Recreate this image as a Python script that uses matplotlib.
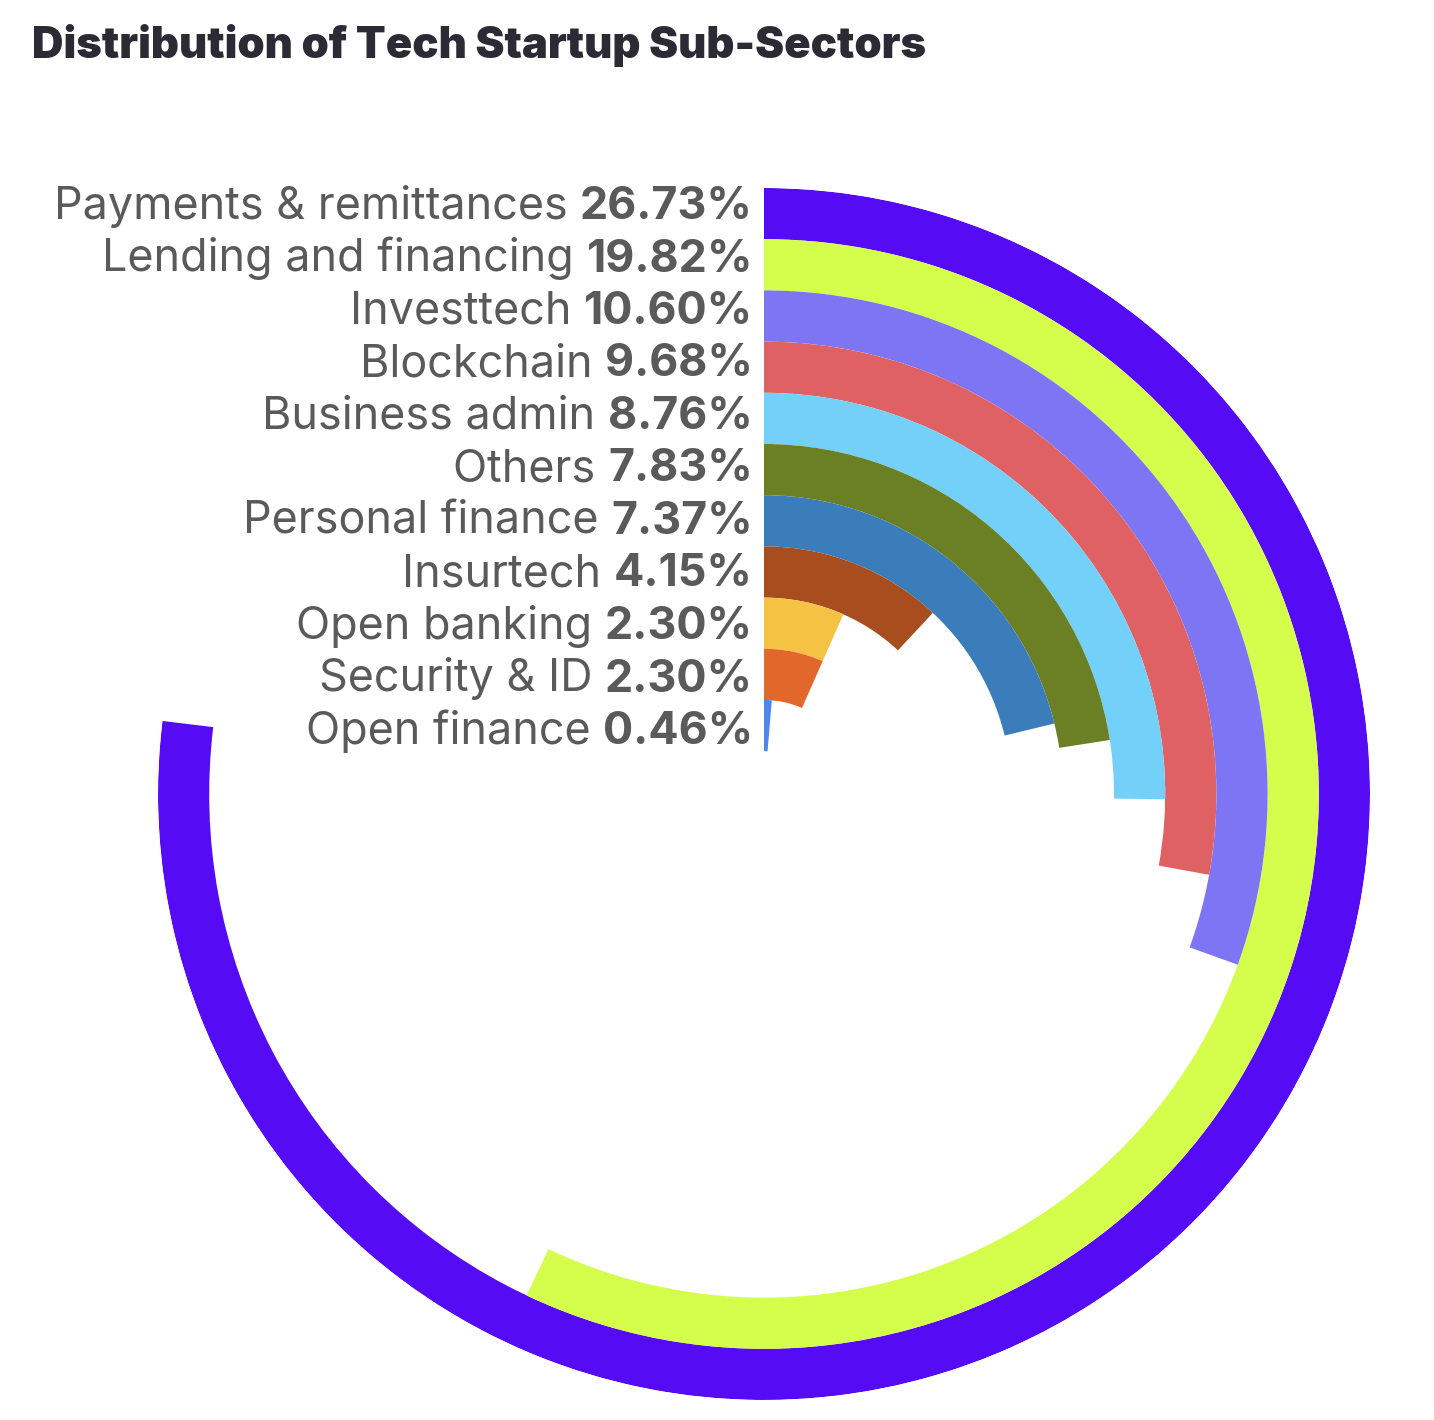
import numpy as np
import matplotlib
matplotlib.use("Agg")
import matplotlib.pyplot as plt

categories = ["Payments & remittances", "Lending and financing", "Investtech", "Blockchain",
              "Business admin", "Others", "Personal finance", "Insurtech", "Open banking",
              "Security & ID", "Open finance"]
values = [26.73, 19.82, 10.60, 9.68, 8.76, 7.83, 7.37, 4.15, 2.30, 2.30, 0.46]
colors = ["#560bf5", "#d4fd4c", "#7e75f5", "#e06163", "#73d0f8", "#6b7f25",
          "#3b7dbb", "#a84d1d", "#f5c243", "#e2672b", "#4f86ec"]

W, H, DPI = 1434, 1420, 100
fig = plt.figure(figsize=(W / DPI, H / DPI), dpi=DPI)
fig.patch.set_facecolor("white")

cx, cy = 764, 794          # center in image pixel coords
R = 606                    # outer radius in px
pitch = 51.2
ax = fig.add_axes([(cx - R) / W, (H - cy - R) / H, 2 * R / W, 2 * R / H], projection="polar")
ax.set_theta_zero_location("N")
ax.set_theta_direction(-1)
ax.set_rlim(0, R)
ax.set_axis_off()

vmax = max(values) * 1.3
n = len(values)
rpos = [R - pitch * (i + 0.5) for i in range(n)]
widths = [v / vmax * 2 * np.pi for v in values]
ax.barh(rpos, widths, left=0, height=pitch, color=colors, linewidth=0)

fig.canvas.draw()
renderer = fig.canvas.get_renderer()
fs = 32.3
lab_color = "#5a5a5a"
x_right = 753
base0, lab_pitch = 219, 52.5
for i, (name, v) in enumerate(zip(categories, values)):
    yb = 1 - (base0 + lab_pitch * i) / H
    t1 = fig.text(x_right / W, yb, f"{v:.2f}%", ha="right", va="baseline", fontsize=fs,
                  fontweight="bold", color=lab_color, family="Inter")
    bb = t1.get_window_extent(renderer)
    fig.text((x_right - bb.width) / W, yb, f"{name} ", ha="right", va="baseline",
             fontsize=fs, color=lab_color, family="Inter")

fig.text(32 / W, 1 - 58 / H, "Distribution of Tech Startup Sub-Sectors", fontsize=31.4,
         fontweight="black", color="#2b2a35", family="Inter", ha="left", va="baseline")

fig.savefig("out.png", dpi=DPI, facecolor="white")
